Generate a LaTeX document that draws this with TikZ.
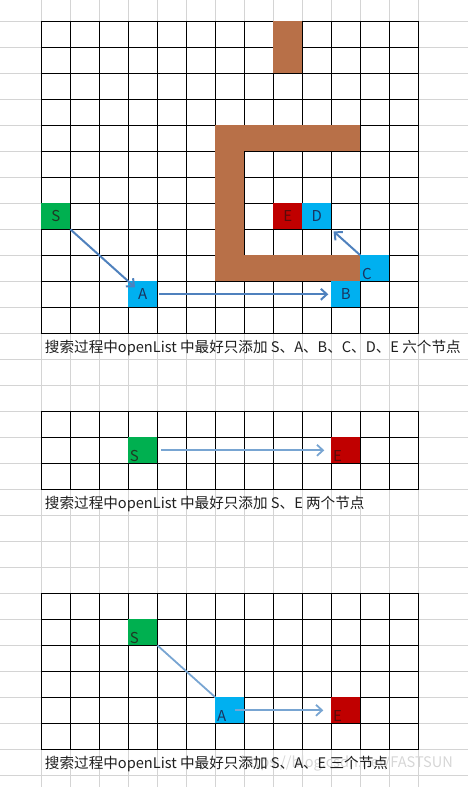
\documentclass[tikz,border=0pt]{standalone}
\usepackage{fontspec}
\setmainfont{Noto Sans CJK SC}
\usepackage{xcolor}
\usepackage{tikz}
\usetikzlibrary{arrows.meta, backgrounds}

\definecolor{gridgrey}{HTML}{D4D4D4}
\definecolor{wallbrown}{HTML}{B87048}
\definecolor{startgreen}{HTML}{00B050}
\definecolor{openblue}{HTML}{00B0F0}
\definecolor{goalred}{HTML}{C00000}
\definecolor{pathblue}{HTML}{4F81BD}
\definecolor{lightpath}{HTML}{78A5D2}
\definecolor{startink}{HTML}{1E3A24}
\definecolor{openink}{HTML}{1A3560}
\definecolor{goalink}{HTML}{5A0A0A}

\newcommand{\cellfont}{\fontsize{15}{18}\selectfont}
\newcommand{\captionfont}{\fontsize{14.6}{18}\selectfont}

\tikzset{
    pagegrid/.style={draw=gridgrey, line width=0.8pt},
    boardgrid/.style={draw=black, line width=1.2pt, line cap=rect},
    wall/.style={fill=wallbrown},
    cell/.style={minimum width=29pt, minimum height=26pt, inner sep=0pt, outer sep=0pt, font=\cellfont},
    startcell/.style={cell, fill=startgreen, text=startink},
    opencell/.style={cell, fill=openblue, text=openink},
    goalcell/.style={cell, fill=goalred, text=goalink},
    corner/.style={anchor=south west, inner sep=1.5pt, font=\cellfont, text=#1},
    path1/.style={draw=pathblue, line width=2pt, -{Straight Barb[length=6pt, width=11pt]}},
    path2/.style={draw=lightpath, line width=1.8pt, -{Straight Barb[length=6pt, width=11pt]}},
    caption/.style={font=\captionfont, text=black!88, inner sep=0pt},
    watermark/.style={font=\captionfont, text=black!16, inner sep=0pt},
}

\begin{document}
\begin{tikzpicture}[x=29pt, y=-26pt]
    \useasboundingbox (-1.424,-0.819) rectangle (14.714,29.45);

    % Sheet lines and the three boards
    \begin{scope}[on background layer]
        \foreach \r in {0,...,29} {
            \draw[pagegrid] (-1.424,\r) -- (14.714,\r);
        }
        \foreach \c in {0,...,13} {
            \draw[pagegrid] (\c,-0.819) -- (\c,29.45);
        }
        \foreach \ytop/\nrows in {0/12, 15/3, 22/6} {
            \foreach \r in {0,...,\nrows} {
                \draw[boardgrid] (0,\ytop+\r) -- (13,\ytop+\r);
            }
            \foreach \c in {0,...,13} {
                \draw[boardgrid] (\c,\ytop) -- (\c,\ytop+\nrows);
            }
        }
    \end{scope}

    % Board 1: S, A, B, C, D, E
    \begin{scope}[shift={(0, 0)}]
        % Walls
        \foreach \c/\r in {8/0, 8/1, 6/4, 7/4, 8/4, 9/4, 10/4, 6/5, 6/6, 6/7, 6/8,
                           6/9, 7/9, 8/9, 9/9, 10/9} {
            \fill[wall] (\c,\r) rectangle ++(1,1);
        }
        \node[startcell] (S1) at (0.5,7.5) {S};
        \node[goalcell] (E1) at (8.5,7.5) {E};
        \node[opencell] (D1) at (9.5,7.5) {D};
        \node[opencell] (A1) at (3.5,10.5) {A};
        \node[opencell] (B1) at (10.5,10.5) {B};
        \node[opencell, label={[corner=openink]south west:C}] (C1) at (11.5,9.5) {};

        \draw[path1, shorten >=-9pt] (S1.south east) -- (A1.north west);
        \draw[path1, shorten <=2pt, shorten >=3pt] (A1.east) -- (B1.west);
        \draw[path1, shorten >=3pt] (C1.north west) -- (D1.south east);

        \node[caption, anchor=west] (cap1) at (0.12,12.55) {搜索过程中openList 中最好只添加 S、A、B、C、D、E 六个节点};
    \end{scope}

    % Board 2: S, E
    \begin{scope}[shift={(0, 15)}]
        \node[startcell, label={[corner=startink]south west:S}] (S2) at (3.5,1.5) {};
        \node[goalcell, label={[corner=goalink]south west:E}] (E2) at (10.5,1.5) {};

        \draw[path2, shorten <=3.5pt, shorten >=7pt] (S2.east) -- (E2.west);

        \node[caption, anchor=west] (cap2) at (0.12,3.55) {搜索过程中openList 中最好只添加 S、E 两个节点};
    \end{scope}

    % Board 3: S, A, E
    \begin{scope}[shift={(0, 22)}]
        \node[startcell, label={[corner=startink]south west:S}] (S3) at (3.5,1.5) {};
        \node[opencell, label={[corner=openink]south west:A}] (A3) at (6.5,4.5) {};
        \node[goalcell, label={[corner=goalink]south west:E}] (E3) at (10.5,4.5) {};

        \begin{scope}[on background layer]
            \draw[path2, shorten >=-16pt] (S3.south east) -- (A3.north west);
        \end{scope}
        \draw[path2, shorten <=5pt, shorten >=8pt] (A3.center) -- (E3.west);

        \node[watermark, anchor=east] (mark) at (14.2,6.55) {https://blog.csdn.net/FASTSUN};
        \node[caption, anchor=west] (cap3) at (0.12,6.55) {搜索过程中openList 中最好只添加 S、A、E 三个节点};
    \end{scope}

\end{tikzpicture}
\end{document}
